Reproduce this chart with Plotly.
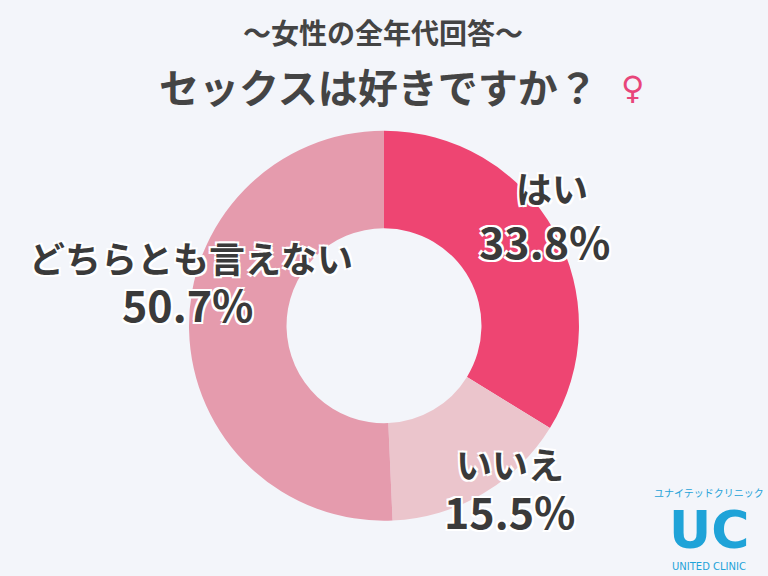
import plotly.graph_objects as go

labels = ["はい", "いいえ", "どちらとも言えない"]
values = [33.8, 15.5, 50.7]
colors = ["#EE4572", "#EBC5CC", "#E59BAD"]

W, H = 768, 576
fig = go.Figure(go.Pie(
    labels=labels, values=values, hole=0.5, sort=False, direction="clockwise",
    rotation=0, marker=dict(colors=colors), textinfo="none", showlegend=False,
    domain=dict(x=[0.246, 0.754], y=[0.096, 0.773]),
))

def ann(x, y, text, size, color="#3a3a3a", family="Noto Sans CJK JP", shadow=None):
    f = dict(family=family, size=size, color=color)
    if shadow:
        f["shadow"] = shadow
    fig.add_annotation(x=x / W, y=1 - y / H, text=text, showarrow=False,
                       xanchor="center", yanchor="middle", font=f)

shadow = "2px 2px 0 white, -2px -2px 0 white, 2px -2px 0 white, -2px 2px 0 white"
label_pos = [((552, 187), (545, 240)), ((510, 463), (510, 510)), ((191, 257), (188, 303))]
for lab, val, (p1, p2) in zip(labels, values, label_pos):
    ann(*p1, f"<b>{lab}</b>", 36, shadow=shadow)
    ann(*p2, f"<b>{val}%</b>", 43, shadow=shadow)

ann(383, 32, "<b>〜女性の全年代回答〜</b>", 28, color="#444")
ann(378, 86, "<b>セックスは好きですか？</b>", 40, color="#444")
ann(632, 88, "<b>♀</b>", 32, color="#E8457A", family="DejaVu Sans")

# logo
ann(709, 492, "ユナイテッドクリニック", 10, color="#1FA3D8")
ann(709, 530, "<b>UC</b>", 52, color="#1FA3D8", family="DejaVu Sans")
ann(709, 566, "UNITED CLINIC", 10, color="#1FA3D8", family="DejaVu Sans")

fig.update_layout(width=W, height=H, margin=dict(l=0, r=0, t=0, b=0),
                  paper_bgcolor="#F3F5FA", plot_bgcolor="#F3F5FA")
fig.write_html("out.html", config={"displayModeBar": False},
               post_script="document.body.style.margin='0';document.body.style.background='#F3F5FA';")
